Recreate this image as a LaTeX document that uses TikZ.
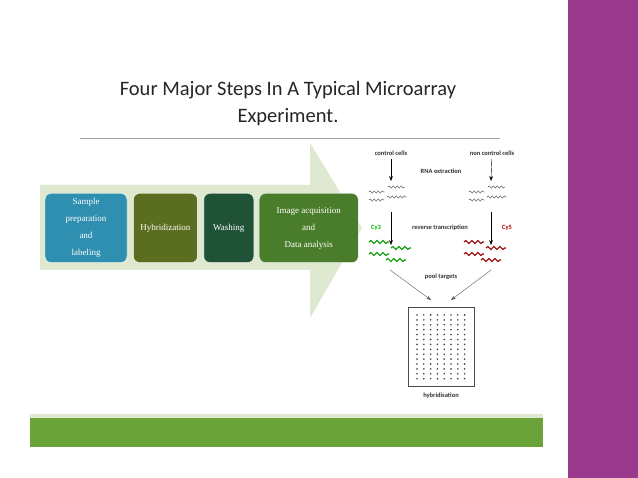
\documentclass[tikz,border=0pt]{standalone}
\usepackage{fontspec}
\setmainfont{Liberation Serif}
\setsansfont{Carlito}
\usetikzlibrary{positioning,decorations.pathmorphing,arrows.meta}
\definecolor{strip}{HTML}{9A3A8C}
\definecolor{paleg}{HTML}{DFE9CF}
\definecolor{stepa}{HTML}{2E8FB0}
\definecolor{stepb}{HTML}{5B6E1F}
\definecolor{stepc}{HTML}{1F5236}
\definecolor{stepd}{HTML}{4A7D2B}
\definecolor{barg}{HTML}{6AA33A}
\tikzset{
  stepbox/.style={rectangle,rounded corners=6pt,draw=white,thin,text=white,
    font=\fontsize{9}{17}\selectfont,align=center,inner sep=1pt},
  lbl/.style={font=\sffamily\bfseries\fontsize{6.5}{7}\selectfont,text=black!80},
  wave/.style={decorate,decoration={snake,amplitude=1.2pt,segment length=4pt},gray!60!black,thin},
  strand/.style={decorate,decoration={snake,amplitude=1.5pt,segment length=6pt},line width=1.1pt}
}
\begin{document}
\begin{tikzpicture}[x=1pt,y=-1pt,>=Stealth]
\useasboundingbox (0,0) rectangle (638,478);
\fill[white] (0,0) rectangle (638,478);
% side strip
\fill[strip] (568,0) rectangle (638,478);
% title
\node[font=\sffamily\fontsize{20.5}{27}\selectfont,align=center,text=black!85] (title) at (288,104)
  {Four Major Steps In A Typical Microarray\\Experiment.};
\draw[gray!70] (80,138) -- (500,138);
% big arrow
\fill[paleg] (40,185) -- (310,185) -- (310,143) -- (362,228) -- (310,318) -- (310,270) -- (40,270) -- cycle;
% steps
\node[stepbox,fill=stepa,minimum width=82pt,minimum height=69pt] (prep) at (86,228)
  {Sample\\preparation\\and\\labeling};
\node[stepbox,fill=stepb,minimum width=64pt,minimum height=69pt,right=6pt of prep] (hyb) {Hybridization};
\node[stepbox,fill=stepc,minimum width=50pt,minimum height=69pt,right=6pt of hyb] (wash) {Washing};
\node[stepbox,fill=stepd,minimum width=99pt,minimum height=69pt,right=5pt of wash] (img)
  {Image acquisition\\and\\Data analysis};
% right scheme
\node[lbl] (ctrl) at (391,153) {control cells};
\node[lbl] (nctrl) at (492,153) {non control cells};
\node[lbl] (rna) at (441,171) {RNA extraction};
\coordinate (wl) at (391,193);
\coordinate (wr) at (491,193);
\draw[->,thin] (ctrl) -- (391,181);
\draw[->,thin] (nctrl) -- (491,181);
\foreach \c in {wl,wr}{
  \draw[wave] ([xshift=-22pt,yshift=-7pt]\c) -- ++(16,0);
  \draw[wave] ([xshift=-4pt,yshift=-4pt]\c) -- ++(20,0);
  \draw[wave] ([xshift=-22pt,yshift=1pt]\c) -- ++(16,0);
  \draw[wave] ([xshift=-3pt,yshift=6pt]\c) -- ++(17,0);
}
\node[lbl,text=green!70!black] (cy3) at (376,228) {Cy3};
\node[lbl] (rt) at (440,228) {reverse transcription};
\node[lbl,text=red!70!black] (cy5) at (507,228) {Cy5};
\draw[->,thin] (391,212) -- (391,245);
\draw[->,thin] (491,212) -- (491,245);
\foreach \y/\dx in {242/-22,248/0,254/-22,260/-5}{
  \draw[strand,green!60!black] (391+\dx,\y) -- ++(20,0);
  \draw[strand,red!60!black] (486+\dx,\y) -- ++(20,0);
}
\node[lbl] (pool) at (441,277) {pool targets};
\node[draw,gray!60!black,thin,minimum width=66pt,minimum height=79pt] (chip) at (441,347) {};
\draw[->,gray!70!black] (390,270) -- (431,300);
\draw[->,gray!70!black] (491,270) -- (451,300);
\foreach \i in {0,...,7}
  \foreach \j in {0,...,13}
    \fill[gray!50!black] (417+\i*6.8,315+\j*4.9) circle (0.9);
\node[lbl] (hyb2) at (441,396) {hybridisation};
% bottom bar
\fill[paleg] (30,414) rectangle (543,418);
\fill[barg] (30,418) rectangle (543,447);
\end{tikzpicture}
\end{document}
